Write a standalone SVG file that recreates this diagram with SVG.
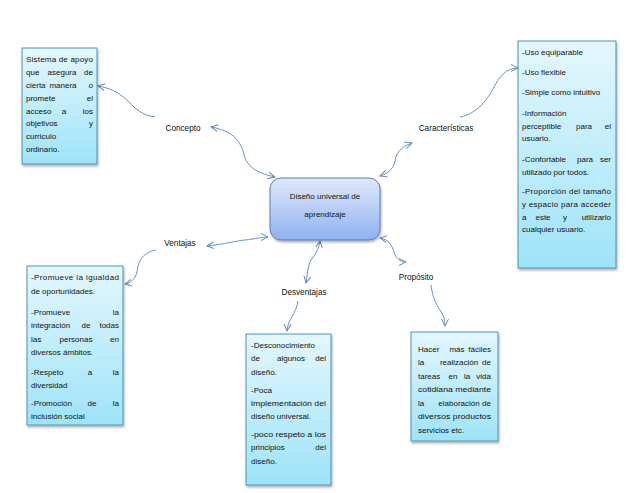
<svg xmlns="http://www.w3.org/2000/svg" width="638" height="493" viewBox="0 0 638 493">
<defs>
<linearGradient id="gBox" x1="0" y1="0" x2="0" y2="1">
<stop offset="0" stop-color="#e4f7fd"/>
<stop offset="1" stop-color="#9ee3f8"/>
</linearGradient>
<linearGradient id="gCen" x1="0" y1="0" x2="0" y2="1">
<stop offset="0" stop-color="#e0e9fb"/>
<stop offset="1" stop-color="#8fb1f1"/>
</linearGradient>
<filter id="sh" x="-10%" y="-10%" width="130%" height="130%">
<feDropShadow dx="1" dy="2" stdDeviation="1" flood-color="#000" flood-opacity="0.3"/>
</filter>
<marker id="ar" viewBox="0 0 8 8" refX="7" refY="4" markerWidth="8" markerHeight="8" markerUnits="userSpaceOnUse" orient="auto-start-reverse">
<path d="M0,0.5 L7,4 L0,7.5" fill="none" stroke="#5f8bbd" stroke-width="1"/>
</marker>
</defs>
<style>
.box{fill:url(#gBox);stroke:#4b93b5;stroke-width:1;filter:url(#sh)}
.cen{fill:url(#gCen);stroke:#5a7fbf;stroke-width:1;filter:url(#sh)}
text{font-family:"Liberation Sans",Arial,sans-serif;font-size:8px;fill:#111}
.m{text-anchor:middle}
.e{text-anchor:end}
.lbl{font-size:8.2px;text-anchor:middle}
.c{fill:none;stroke:#6a93c2;stroke-width:1}
</style>
<rect width="638" height="493" fill="#fff"/>

<g id="connectors">
<path class="c" d="M155,117 C128,113 132,92 98,86" marker-end="url(#ar)"/>
<path class="c" d="M211,127 C240,132 242,148 245,158 C250,170 262,174 275,177" marker-start="url(#ar)" marker-end="url(#ar)"/>
<path class="c" d="M207,246 C225,244 235,241 245,240 C255,239 262,237 268,237" marker-start="url(#ar)" marker-end="url(#ar)"/>
<path class="c" d="M156,250 C140,253 138,265 137,272 C135,280 130,283 125,284" marker-end="url(#ar)"/>
<path class="c" d="M460,117 C480,113 490,95 495,85 C502,72 510,68 518,68" marker-end="url(#ar)"/>
<path class="c" d="M412,143 C400,147 395,155 395,162 C393,170 386,174 380,176" marker-start="url(#ar)" marker-end="url(#ar)"/>
<path class="c" d="M380,238 C392,240 393,250 395,255 C398,260 402,262 406,262" marker-start="url(#ar)" marker-end="url(#ar)"/>
<path class="c" d="M431,285 C433,300 437,305 440,310 C444,316 445,320 445,326" marker-end="url(#ar)"/>
<path class="c" d="M320,241 C318,255 310,258 309,265 C307,272 307,278 306,283" marker-start="url(#ar)" marker-end="url(#ar)"/>
<path class="c" d="M298,301 C296,315 288,318 287,331" marker-end="url(#ar)"/>
</g>

<g id="central">
<rect class="cen" x="270" y="178" width="110" height="62" rx="11"/>
<text class="m" x="325" y="199">Diseño universal de</text>
<text class="m" x="325" y="217">aprendizaje</text>
</g>

<g id="concepto-label"><text class="lbl" x="183" y="131">Concepto</text></g>
<g id="caracteristicas-label"><text class="lbl" x="446" y="131">Características</text></g>
<g id="ventajas-label"><text class="lbl" x="180" y="246">Ventajas</text></g>
<g id="desventajas-label"><text class="lbl" x="304" y="295">Desventajas</text></g>
<g id="proposito-label"><text class="lbl" x="416" y="280">Propósito</text></g>

<g id="concepto-box">
<rect class="box" x="22" y="48" width="75" height="116"/>
<text x="26" y="62" textLength="67" lengthAdjust="spacing">Sistema de apoyo</text>
<text x="26" y="75">que</text><text class="m" x="62" y="75">asegura</text><text class="e" x="93" y="75">de</text>
<text x="26" y="88">cierta</text><text class="m" x="63" y="88">manera</text><text class="e" x="93" y="88">o</text>
<text x="26" y="101">promete</text><text class="e" x="93" y="101">el</text>
<text x="26" y="114">acceso</text><text class="m" x="64" y="114">a</text><text class="e" x="93" y="114">los</text>
<text x="26" y="126">objetivos</text><text class="e" x="93" y="126">y</text>
<text x="26" y="139">curriculo</text>
<text x="26" y="152">ordinario.</text>
</g>

<g id="caracteristicas-box">
<rect class="box" x="518" y="41" width="98" height="227"/>
<text x="522" y="55">-Uso equiparable</text>
<text x="522" y="75">-Uso flexible</text>
<text x="522" y="95">-Simple como intuitivo</text>
<text x="522" y="116">-Información</text>
<text x="522" y="129">perceptible</text><text class="m" x="584" y="129">para</text><text class="e" x="611" y="129">el</text>
<text x="522" y="141">usuario.</text>
<text x="522" y="162">-Confortable</text><text class="m" x="585" y="162">para</text><text class="e" x="611" y="162">ser</text>
<text x="522" y="175">utilizado por todos.</text>
<text x="522" y="194" textLength="89" lengthAdjust="spacing">-Proporción del tamaño</text>
<text x="522" y="207" textLength="89" lengthAdjust="spacing">y espacio para acceder</text>
<text x="522" y="220">a</text><text class="m" x="543" y="220">este</text><text class="m" x="565" y="220">y</text><text class="e" x="611" y="220">utilizarlo</text>
<text x="522" y="232">cualquier usuario.</text>
</g>

<g id="ventajas-box">
<rect class="box" x="27" y="266" width="96" height="159"/>
<text x="31" y="280" textLength="88" lengthAdjust="spacing">-Promueve la igualdad</text>
<text x="31" y="294">de oportunidades.</text>
<text x="31" y="315">-Promueve</text><text class="e" x="119" y="315">la</text>
<text x="31" y="328">integración</text><text class="m" x="86" y="328">de</text><text class="e" x="119" y="328">todas</text>
<text x="31" y="342">las</text><text class="m" x="76" y="342">personas</text><text class="e" x="119" y="342">en</text>
<text x="31" y="355">diversos ámbitos.</text>
<text x="31" y="375">-Respeto</text><text class="m" x="90" y="375">a</text><text class="e" x="119" y="375">la</text>
<text x="31" y="388">diversidad</text>
<text x="31" y="406">-Promoción</text><text class="m" x="92" y="406">de</text><text class="e" x="119" y="406">la</text>
<text x="31" y="419">inclusión social</text>
</g>

<g id="desventajas-box">
<rect class="box" x="246" y="334" width="85" height="151"/>
<text x="251" y="348">-Desconocimiento</text>
<text x="251" y="361">de</text><text class="m" x="291" y="361">algunos</text><text class="e" x="326" y="361">del</text>
<text x="251" y="375">diseño.</text>
<text x="251" y="393">-Poca</text>
<text x="251" y="406" textLength="75" lengthAdjust="spacingAndGlyphs">implementación del</text>
<text x="251" y="419">diseño universal.</text>
<text x="251" y="437" textLength="75" lengthAdjust="spacingAndGlyphs">-poco respeto a los</text>
<text x="251" y="450">principios</text><text class="e" x="326" y="450">del</text>
<text x="251" y="464">diseño.</text>
</g>

<g id="proposito-box">
<rect class="box" x="411" y="332" width="87" height="109"/>
<text x="418" y="352">Hacer</text><text class="m" x="457" y="352">más</text><text class="e" x="491" y="352">fáciles</text>
<text x="418" y="365">la</text><text class="m" x="459" y="365">realización</text><text class="e" x="491" y="365">de</text>
<text x="418" y="379">tareas</text><text class="m" x="453" y="379">en</text><text class="m" x="467" y="379">la</text><text class="e" x="491" y="379">vida</text>
<text x="418" y="392" textLength="73" lengthAdjust="spacingAndGlyphs">cotidiana mediante</text>
<text x="418" y="406">la</text><text class="m" x="459" y="406">elaboración</text><text class="e" x="491" y="406">de</text>
<text x="418" y="419" textLength="73" lengthAdjust="spacingAndGlyphs">diversos productos</text>
<text x="418" y="433">servicios etc.</text>
</g>
</svg>
